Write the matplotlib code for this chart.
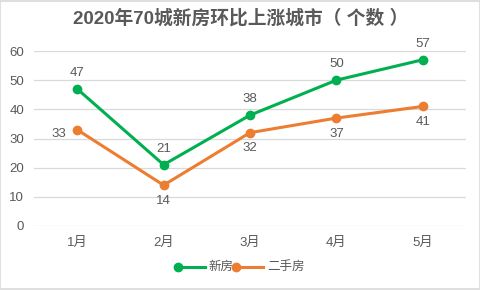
import matplotlib
matplotlib.use("Agg")
import matplotlib.pyplot as plt
from matplotlib.lines import Line2D

plt.rcParams['font.family'] = ['Liberation Sans', 'Noto Sans CJK SC', 'DejaVu Sans']

months = ['1月', '2月', '3月', '4月', '5月']
new_home = [47, 21, 38, 50, 57]
second_hand = [33, 14, 32, 37, 41]
series_names = ['新房', '二手房']
title = '2020年70城新房环比上涨城市（ 个数 ）'

green = '#00B050'
orange = '#ED7D31'
txt = '#595959'

fig = plt.figure(figsize=(4.81, 2.90), dpi=100)
ax = fig.add_axes([34 / 481, 1 - 226 / 290, 432 / 481, 175 / 290])

x = range(len(months))
ax.plot(x, new_home, color=green, lw=2.2, marker='o', ms=6, zorder=3)
ax.plot(x, second_hand, color=orange, lw=2.2, marker='o', ms=6, zorder=3)

for i, v in enumerate(new_home):
    ax.annotate(str(v), (i, v), xytext=(0, 7), textcoords='offset points',
                ha='center', va='bottom', fontsize=9.5, color=txt)
for i, v in enumerate(second_hand):
    if i == 0:
        ax.annotate(str(v), (i, v), xytext=(-8, -3), textcoords='offset points',
                    ha='right', va='center', fontsize=9.5, color=txt)
    else:
        ax.annotate(str(v), (i, v), xytext=(0, -7), textcoords='offset points',
                    ha='center', va='top', fontsize=9.5, color=txt)

ax.set_xlim(-0.5, len(months) - 0.5)
ax.set_ylim(0, 60)
ax.set_yticks(range(0, 61, 10))
ax.set_xticks(list(x))
ax.set_xticklabels(months)
ax.tick_params(length=0, labelsize=9.5, colors=txt)
ax.tick_params(axis='y', pad=7)
ax.tick_params(axis='x', pad=8)
ax.grid(axis='y', color='#D9D9D9', lw=0.9)
ax.set_axisbelow(True)
for s in ax.spines.values():
    s.set_visible(False)

fig.text(0.5, 1 - 18 / 290, title, ha='center', va='center',
         fontsize=13.5, fontweight='bold', color=txt)

# legend drawn by hand: marker at the left end of each line sample
ly = 1 - 267 / 290
for (x0, x1, tx), c, name in zip([(178, 205, 208), (236, 263, 267)],
                                 [green, orange], series_names):
    fig.add_artist(Line2D([x0 / 481, x1 / 481], [ly, ly], color=c, lw=2.2))
    fig.add_artist(Line2D([x0 / 481], [ly], color=c, marker='o', ms=6))
    fig.text(tx / 481, ly, name, ha='left', va='center', fontsize=9, color=txt)

fig.add_artist(plt.Rectangle((0.001, 0.002), 0.997, 0.995, transform=fig.transFigure,
                             fill=False, ec='#D9D9D9', lw=1.2))

fig.savefig('out.png', dpi=100)
